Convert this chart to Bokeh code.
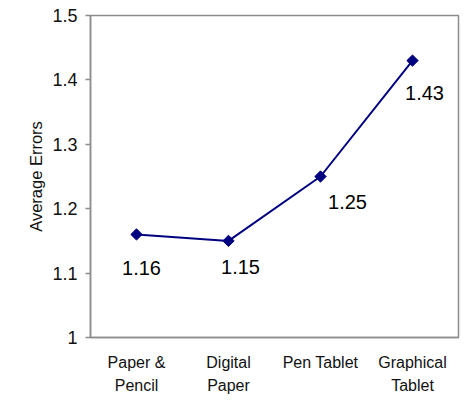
import math
from bokeh.plotting import figure
from bokeh.models import ColumnDataSource
from bokeh.core.properties import value
from bokeh.embed import file_html
from bokeh.resources import INLINE

categories = ["Paper &\nPencil", "Digital\nPaper", "Pen Tablet", "Graphical\nTablet"]
errors = [1.16, 1.15, 1.25, 1.43]
labels = ["1.16", "1.15", "1.25", "1.43"]
y_ticks = [1.0, 1.1, 1.2, 1.3, 1.4, 1.5]

# label placement (pixels)
lab_dx = [5, 12, 27, 12]
lab_dy = [34, 26, 25, 32]

FONT = "Liberation Sans"

src = ColumnDataSource(dict(x=categories, y=errors, t=labels, dx=lab_dx, dy=lab_dy))

p = figure(x_range=categories, y_range=(1.0, 1.5), frame_width=368, frame_height=322,
           output_backend="svg", toolbar_location=None,
           min_border_left=90, min_border_right=8, min_border_top=15, min_border_bottom=50)
p.background_fill_color = "white"
p.border_fill_color = "white"
p.outline_line_color = "#8c8c8c"
p.outline_line_width = 1.5
p.xgrid.visible = False
p.ygrid.visible = False

p.line("x", "y", source=src, line_color="#000080", line_width=2)
p.scatter("x", "y", source=src, marker="square", size=8, angle=math.pi / 4,
          color="#000080")
p.text("x", "y", text="t", source=src, x_offset="dx", y_offset="dy",
       text_align="center", text_baseline="middle", text_font=value(FONT),
       text_font_size="20px", text_color="black")

ya = p.yaxis[0]
ya.ticker = y_ticks
ya.major_label_overrides = {1.0: "1", 1: "1"}
ya.axis_label = "Average Errors"
ya.axis_label_text_font = FONT
ya.axis_label_text_font_style = "normal"
ya.axis_label_text_font_size = "16.5px"
ya.axis_label_text_color = "#111111"
ya.axis_label_standoff = 4
ya.major_label_text_font = FONT
ya.major_label_text_font_size = "18px"
ya.major_label_text_color = "#111111"
ya.major_label_standoff = 8
ya.major_tick_in = 0
ya.major_tick_out = 5
ya.minor_tick_line_color = None
ya.axis_line_color = "#8c8c8c"
ya.axis_line_width = 1.5
ya.major_tick_line_color = "#8c8c8c"
ya.major_tick_line_width = 1.5

xa = p.xaxis[0]
xa.major_label_text_font = FONT
xa.major_label_text_font_size = "16px"
xa.major_label_text_color = "#111111"
xa.major_label_text_line_height = 1.38
xa.major_label_standoff = 10
xa.major_tick_line_color = None
xa.minor_tick_line_color = None
xa.axis_line_color = "#8c8c8c"
xa.axis_line_width = 1.5

open("out.html", "w").write(file_html(p, INLINE))
